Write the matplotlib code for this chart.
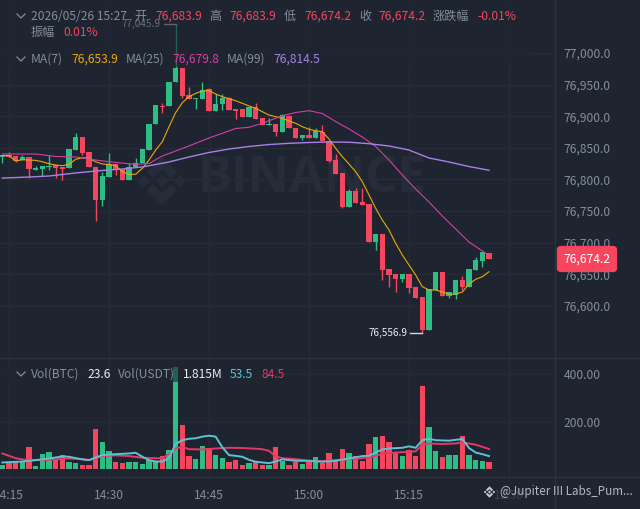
import numpy as np
import matplotlib
matplotlib.use("Agg")
import matplotlib.pyplot as plt
from matplotlib.patches import Polygon, Rectangle
from matplotlib.lines import Line2D
from matplotlib.transforms import Affine2D

plt.rcParams['font.family'] = ['Noto Sans CJK SC', 'DejaVu Sans']

# candle index, 0 is the 14:15 candle, one per minute
first_idx = -1
opens = [76835.5, 76838.6, 76837.5, 76830.7, 76836.0, 76815.4, 76816.5, 76819.2, 76822.3, 76820.1,
         76818.1, 76846.5, 76866.6, 76843.4, 76820.1, 76767.4, 76804.3, 76823.9, 76816.5, 76799.1,
         76819.2, 76825.5, 76846.5, 76887.2, 76916.9, 76916.2, 76954.1, 76976.7, 76933.6, 76927.2,
         76928.0, 76942.3, 76909.0, 76919.3, 76928.8, 76911.4, 76911.4, 76898.8, 76914.6, 76896.4,
         76885.6, 76887.7, 76875.5, 76900.3, 76881.8, 76865.1, 76869.8, 76865.1, 76875.5, 76861.3,
         76830.7, 76809.7, 76756.4, 76781.7, 76764.3, 76760.6, 76701.5, 76714.1, 76658.3, 76649.9,
         76642.0, 76650.9, 76629.3, 76613.5, 76562.3, 76625.1, 76653.1, 76616.1, 76617.2, 76640.9,
         76629.3, 76656.7, 76671.0, 76683.9]
highs = [76838.6, 76842.9, 76837.5, 76838.6, 76836.0, 76820.7, 76820.7, 76838.6, 76822.3, 76820.1,
         76848.1, 76873.0, 76866.6, 76843.4, 76820.1, 76811.3, 76841.3, 76823.9, 76816.5, 76825.5,
         76833.4, 76848.1, 76887.2, 76917.7, 76920.9, 76954.1, 77045.9, 76976.7, 76946.2, 76929.3,
         76954.1, 76944.6, 76935.9, 76935.1, 76930.9, 76911.4, 76911.4, 76914.6, 76920.9, 76896.4,
         76897.2, 76887.7, 76903.5, 76901.4, 76881.8, 76869.8, 76883.4, 76881.8, 76886.1, 76861.3,
         76840.2, 76809.7, 76784.8, 76786.9, 76786.9, 76760.6, 76714.1, 76714.1, 76658.3, 76649.9,
         76650.9, 76650.9, 76629.3, 76613.5, 76627.1, 76653.1, 76653.1, 76621.4, 76640.9, 76647.2,
         76658.8, 76677.3, 76684.7, 76683.9]
lows = [76826.5, 76835.5, 76828.0, 76830.7, 76802.7, 76815.4, 76805.4, 76814.9, 76801.8, 76799.1,
        76818.1, 76846.5, 76838.6, 76819.2, 76734.2, 76758.4, 76804.3, 76807.0, 76799.1, 76799.1,
        76819.2, 76825.5, 76846.5, 76887.2, 76905.1, 76916.2, 76954.1, 76928.8, 76927.2, 76911.4,
        76928.0, 76909.0, 76909.0, 76909.8, 76909.8, 76895.6, 76898.8, 76898.8, 76895.6, 76886.1,
        76885.6, 76869.2, 76875.5, 76880.9, 76865.1, 76862.4, 76866.0, 76865.1, 76860.8, 76827.6,
        76808.6, 76755.3, 76756.4, 76762.7, 76759.0, 76701.5, 76688.3, 76640.9, 76630.3, 76622.4,
        76637.2, 76620.8, 76612.4, 76556.9, 76562.3, 76625.1, 76616.1, 76612.4, 76610.8, 76625.1,
        76629.3, 76656.7, 76662.0, 76674.2]
closes = [76838.6, 76835.5, 76829.6, 76836.0, 76816.5, 76818.5, 76820.7, 76821.7, 76818.1, 76816.9,
          76848.1, 76866.6, 76841.8, 76819.2, 76767.4, 76805.4, 76823.9, 76816.5, 76799.1, 76819.2,
          76825.5, 76848.1, 76887.2, 76917.7, 76914.6, 76954.1, 76976.7, 76932.0, 76927.2, 76929.3,
          76941.5, 76909.0, 76920.1, 76928.8, 76909.8, 76909.0, 76898.8, 76914.6, 76895.6, 76886.1,
          76888.2, 76875.5, 76901.9, 76880.9, 76865.1, 76869.8, 76866.0, 76876.6, 76860.8, 76829.1,
          76808.6, 76756.4, 76781.7, 76762.7, 76759.0, 76701.5, 76714.1, 76656.7, 76648.8, 76642.5,
          76650.9, 76627.8, 76612.4, 76562.3, 76627.1, 76653.1, 76616.1, 76621.4, 76640.9, 76629.3,
          76658.8, 76672.5, 76684.7, 76674.2]
volumes = [17, 25, 28, 32, 92, 14, 63, 72, 41, 58, 31, 25, 18, 18, 170, 114, 77, 31, 25, 32,
           32, 23, 38, 32, 54, 80, 431, 186, 55, 41, 96, 87, 59, 46, 30, 38, 17, 25, 32, 17,
           18, 94, 35, 18, 32, 23, 32, 51, 24, 68, 35, 84, 70, 56, 35, 104, 135, 141, 114, 68,
           56, 79, 56, 352, 179, 76, 49, 59, 59, 141, 59, 39, 34, 28]

ma7_idx = list(range(-1, 73))
ma7 = [76838.0, 76837.5, 76829.1, 76831.2, 76830.7, 76830.2, 76828.0, 76824.9, 76822.8, 76821.7, 76823.9,
       76831.8, 76834.4, 76833.4, 76828.0, 76824.4, 76823.9, 76821.7, 76812.2, 76808.1, 76808.1,
       76817.6, 76830.7, 76846.5, 76859.7, 76883.4, 76905.6, 76921.4, 76930.9, 76936.2, 76939.9,
       76940.4, 76935.1, 76930.9, 76927.7, 76924.5, 76920.4, 76916.2, 76912.5, 76907.1, 76901.9,
       76899.2, 76896.7, 76892.4, 76888.8, 76883.4, 76879.3, 76877.0, 76875.5, 76863.9, 76849.2,
       76836.0, 76824.4, 76812.2, 76796.4, 76775.4, 76754.3, 76735.8, 76720.0, 76698.9, 76680.4,
       76664.6, 76648.8, 76630.3, 76625.1, 76625.1, 76621.9, 76618.7, 76618.7, 76621.9, 76634.6,
       76642.0, 76646.1, 76653.9]
ma25_idx = [-1, 4, 7, 10, 13, 16, 19, 21, 23, 26, 30, 34, 36, 38, 41, 43, 45, 47, 49, 51, 53, 55, 57,
            59, 61, 63, 65, 67, 69, 72]
ma25 = [76840.2, 76840.2, 76836.3, 76835.5, 76830.7, 76826.8, 76823.9, 76825.2, 76837.1, 76848.9,
        76865.5, 76880.6, 76882.5, 76888.8, 76900.8, 76905.9, 76908.7, 76904.3, 76891.6, 76879.8,
        76867.1, 76852.1, 76830.7, 76807.0, 76784.8, 76764.3, 76742.1, 76721.6, 76701.0, 76679.8]
ma99_idx = [-1, 3, 6, 10, 13, 17, 20, 24, 27, 30, 33, 36, 39, 42, 45, 48, 51, 54, 57, 60, 63, 66, 69, 72]
ma99 = [76802.2, 76803.8, 76805.4, 76810.2, 76813.3, 76816.5, 76819.7, 76827.6, 76835.5, 76842.6,
        76848.1, 76852.1, 76855.2, 76857.1, 76858.4, 76859.2, 76858.9, 76856.5, 76852.9, 76846.5,
        76833.9, 76827.6, 76820.4, 76814.5]

vol_fast_idx = [-1, 2, 3, 5, 7, 8, 9, 11, 12, 13, 14, 16, 18, 19, 20, 21, 22, 23, 24, 25, 26, 27, 28,
                29, 30, 31, 32, 33, 34, 35, 36, 37, 38, 39, 40, 41, 43, 45, 47, 49, 51, 53, 54, 55,
                56, 57, 59, 60, 61, 62, 63, 64, 66, 68, 69, 70, 71, 72]
vol_fast = [28, 32, 35, 41, 49, 54, 52, 41, 38, 49, 59, 63, 66, 69, 52, 38, 32, 32, 46, 106, 122,
            128, 130, 137, 141, 137, 92, 59, 56, 52, 39, 31, 28, 25, 32, 41, 35, 35, 31, 35, 45,
            55, 56, 70, 83, 87, 90, 96, 90, 122, 128, 122, 120, 127, 89, 70, 63, 55]
vol_slow_idx = [-1, 0, 1, 2, 3, 5, 7, 9, 11, 12, 13, 14, 16, 18, 20, 22, 23, 24, 25, 26, 27, 29, 31,
                33, 35, 37, 38, 39, 40, 41, 43, 45, 47, 49, 51, 53, 55, 56, 58, 60, 61, 62, 63, 65,
                67, 68, 70, 72]
vol_slow = [66, 56, 46, 41, 38, 38, 41, 45, 42, 38, 46, 55, 58, 55, 48, 46, 46, 63, 87, 94, 84, 83,
            87, 90, 89, 86, 84, 77, 54, 46, 42, 35, 34, 38, 42, 46, 55, 66, 70, 73, 75, 103, 108,
            106, 108, 113, 103, 85]

price_ticks = [77000, 76950, 76900, 76850, 76800, 76750, 76700, 76650, 76600]
vol_ticks = [400, 200]
time_idx = [0, 15, 30, 45, 60, 75]
time_labels = ['14:15', '14:30', '14:45', '15:00', '15:15', '15:30']

BG = '#1e2430'
GRID = '#262c37'
EDGE = '#2d333e'
GREEN = '#2ebd85'
RED = '#f6465d'
GRAY = '#848e9c'
YELLOW = '#e9a90c'
PINK = '#d33fa6'
PURPLE = '#a781e6'
CYAN = '#5cc3d6'
ROSE = '#e23a66'
WATER = '#272d38'

W, H = 640, 509
fig = plt.figure(figsize=(W / 100, H / 100), dpi=100, facecolor=BG)
# top left pixel coordinates, used for everything that is not data
px = Affine2D().scale(1 / W, -1 / H).translate(0, 1) + fig.transFigure

ax = fig.add_axes([0, (H - 358) / H, 555 / W, 358 / H], facecolor='none')
vax = fig.add_axes([0, (H - 477) / H, 555 / W, 119 / H], facecolor='none')

idx = np.arange(first_idx, first_idx + len(opens))
opens, highs, lows, closes = map(np.array, (opens, highs, lows, closes))
colors = [GREEN if c >= o else RED for o, c in zip(opens, closes)]


def draw_logo(cx, cy, s, color, zorder):
    shapes = [
        [(0, -24), (15, -9), (9, -3), (0, -12), (-9, -3), (-15, -9)],
        [(0, 24), (15, 9), (9, 3), (0, 12), (-9, 3), (-15, 9)],
        [(0, -6.5), (6.5, 0), (0, 6.5), (-6.5, 0)],
        [(-18, -6), (-12, 0), (-18, 6), (-24, 0)],
        [(18, -6), (24, 0), (18, 6), (12, 0)],
    ]
    for shape in shapes:
        pts = [(cx + a * s, cy + b * s) for a, b in shape]
        fig.add_artist(Polygon(pts, closed=True, fc=color, ec='none', transform=px, zorder=zorder))


# watermark sits below the axes
draw_logo(162, 181, 1.0, WATER, -1)
fig.text(197 / W, 1 - 179 / H, 'BINANCE', family='Open Sans', weight='bold', fontsize=36.5,
         color=WATER, va='center', ha='left', zorder=-1)

ax.set_xlim(-1.35, 81.9)
ax.set_ylim(76517.5, 77083.85)
vax.set_xlim(-1.35, 81.9)
vax.set_ylim(-33.3, 468.8)

ax.vlines(idx, lows, highs, colors=colors, lw=1, zorder=3)
ax.bar(idx, closes - opens, bottom=opens, width=0.76, color=colors, zorder=4)
ax.plot(ma7_idx, ma7, color=YELLOW, lw=0.8, zorder=5)
ax.plot(ma25_idx, ma25, color=PINK, lw=0.8, zorder=5)
ax.plot(ma99_idx, ma99, color=PURPLE, lw=1.0, zorder=5)

vax.bar(idx, volumes, width=0.76, color=colors, zorder=3)
vax.plot(vol_slow_idx, vol_slow, color=ROSE, lw=1.4, zorder=4)
vax.plot(vol_fast_idx, vol_fast, color=CYAN, lw=1.4, zorder=5)

for a in (ax, vax):
    a.set_xticks(time_idx)
    a.yaxis.tick_right()
    a.grid(True, color=GRID, lw=1, zorder=0)
    a.set_axisbelow(True)
    a.tick_params(length=0, colors=GRAY, labelsize=8.7)
    for s in a.spines.values():
        s.set_visible(False)
ax.set_xticklabels([])
vax.set_xticklabels(time_labels)
vax.tick_params(axis='x', pad=8.5)
ax.set_yticks(price_ticks)
ax.set_yticklabels(['{:,.1f}'.format(p) for p in price_ticks])
vax.set_yticks(vol_ticks)
vax.set_yticklabels(['{:.2f}'.format(v) for v in vol_ticks])
ax.tick_params(axis='y', pad=6)
vax.tick_params(axis='y', pad=6)

# extreme labels
hi = int(np.argmax(highs))
ax.plot([idx[hi] - 1.8, idx[hi]], [highs[hi], highs[hi]], color='#c9ced6', lw=1, zorder=5)
ax.annotate('{:,.1f}'.format(highs[hi]), (idx[hi] - 2.2, highs[hi]), ha='right', va='center',
            fontsize=7.2, color='#eaecef', zorder=5)
lo = int(np.argmin(lows))
ax.plot([idx[lo] - 1.8, idx[lo]], [lows[lo], lows[lo]], color='#d5d8dd', lw=1, zorder=6)
ax.annotate('{:,.1f}'.format(lows[lo]), (idx[lo] - 2.2, lows[lo]), ha='right', va='center',
            fontsize=7.2, color='#eaecef', zorder=6)

# dim layer behind the legend rows
ax.add_patch(Rectangle((0, 0), 530, 67, transform=px, fc=BG, ec='none', alpha=0.62, zorder=8, clip_on=False))
vax.add_patch(Rectangle((0, 367), 280, 15, transform=px, fc=BG, ec='none', alpha=0.62, zorder=8, clip_on=False))

# pane borders
for y in (358, 477):
    fig.add_artist(Line2D([0, 640], [y, y], color=EDGE, lw=1, transform=px))
fig.add_artist(Line2D([555, 555], [0, 509], color=EDGE, lw=1, transform=px))

for y in (16, 59, 374):
    fig.add_artist(Line2D([17, 21, 25], [y - 2, y + 2, y - 2], color=GRAY, lw=0.9, transform=px))


def label(x, y, s, color=GRAY, size=8.7):
    fig.text(x / W, 1 - y / H, s, color=color, fontsize=size, ha='left', va='center')


label(31, 16.5, '2026/05/26 15:27')
label(134, 16.5, '开')
label(155, 16.5, '76,683.9', RED)
label(209, 16.5, '高')
label(229, 16.5, '76,683.9', RED)
label(284, 16.5, '低')
label(304, 16.5, '76,674.2', RED)
label(359, 16.5, '收')
label(378, 16.5, '76,674.2', RED)
label(433, 16.5, '涨跌幅')
label(477, 16.5, '-0.01%', RED)
label(31, 32.5, '振幅')
label(63, 32.5, '0.01%', RED)

label(31, 59, 'MA(7)')
label(71, 59, '76,653.9', YELLOW)
label(126, 59, 'MA(25)')
label(172, 59, '76,679.8', PINK)
label(227, 59, 'MA(99)')
label(273, 59, '76,814.5', PURPLE)

label(31, 374.5, 'Vol(BTC)')
label(87, 374.5, '23.6', '#eaecef')
label(118, 374.5, 'Vol(USDT)')
label(183, 374.5, '1.815M', '#eaecef')
label(230, 374.5, '53.5', CYAN)
label(262, 374.5, '84.5', ROSE)

# last price tag
fig.text(587 / W, 1 - 259 / H, '{:,.1f}'.format(closes[-1]), color='white', fontsize=8.7,
         ha='center', va='center',
         bbox=dict(boxstyle='round,pad=0.55,rounding_size=0.35', fc=RED, ec='none'))

# channel credit over the time axis, the time label shows through faintly
fig.add_artist(Rectangle((484, 480), 156, 26, transform=px, fc=BG, ec='none', alpha=0.7))
draw_logo(489.5, 492, 0.24, '#c4c8ce', 6)
label(500, 492, '@Jupiter III Labs_Pum...', '#b4b9c1', 8.4)

fig.savefig('out.png', dpi=100, facecolor=BG)
